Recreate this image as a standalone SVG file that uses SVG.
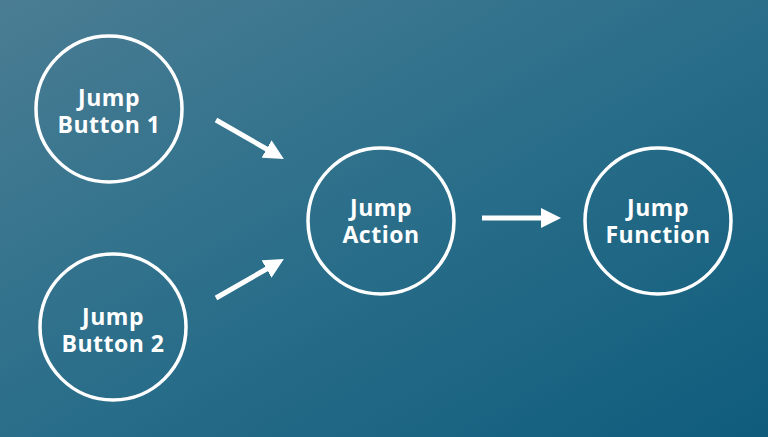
<svg xmlns="http://www.w3.org/2000/svg" width="768" height="437" viewBox="0 0 768 437">
<defs>
<linearGradient id="bg" x1="0" y1="0" x2="1" y2="1">
<stop offset="0" stop-color="#4a7d93"/>
<stop offset="0.5" stop-color="#2a6e8a"/>
<stop offset="1" stop-color="#0f5c7c"/>
</linearGradient>
<marker id="ah" viewBox="0 0 10 10" refX="2" refY="5" markerWidth="4" markerHeight="4" orient="auto" markerUnits="strokeWidth">
<path d="M0,0 L10,5 L0,10 Z" fill="#fff"/>
</marker>
<style>
circle{fill:none;stroke:#fff;stroke-width:3.5}
text{fill:#fff;font-family:"Open Sans","DejaVu Sans",sans-serif;font-weight:700;font-size:23px;text-anchor:middle;letter-spacing:0.5px}
.c line{stroke:#fff;stroke-width:5}
</style>
</defs>
<rect width="768" height="437" fill="url(#bg)"/>
<g id="b1"><circle cx="109" cy="109" r="73"/><text x="109" y="106">Jump</text><text x="109" y="133">Button 1</text></g>
<g id="b2"><circle cx="113" cy="327" r="73"/><text x="113" y="325">Jump</text><text x="113" y="352">Button 2</text></g>
<g id="act"><circle cx="381" cy="221" r="73"/><text x="381" y="216">Jump</text><text x="381" y="243">Action</text></g>
<g id="fn"><circle cx="658" cy="221" r="73"/><text x="658" y="216">Jump</text><text x="658" y="243">Function</text></g>
<g class="c">
<line x1="216" y1="120" x2="270" y2="151" marker-end="url(#ah)"/>
<line x1="216" y1="298" x2="270" y2="267" marker-end="url(#ah)"/>
<line x1="482" y1="218" x2="545" y2="218" marker-end="url(#ah)"/>
</g>
</svg>
